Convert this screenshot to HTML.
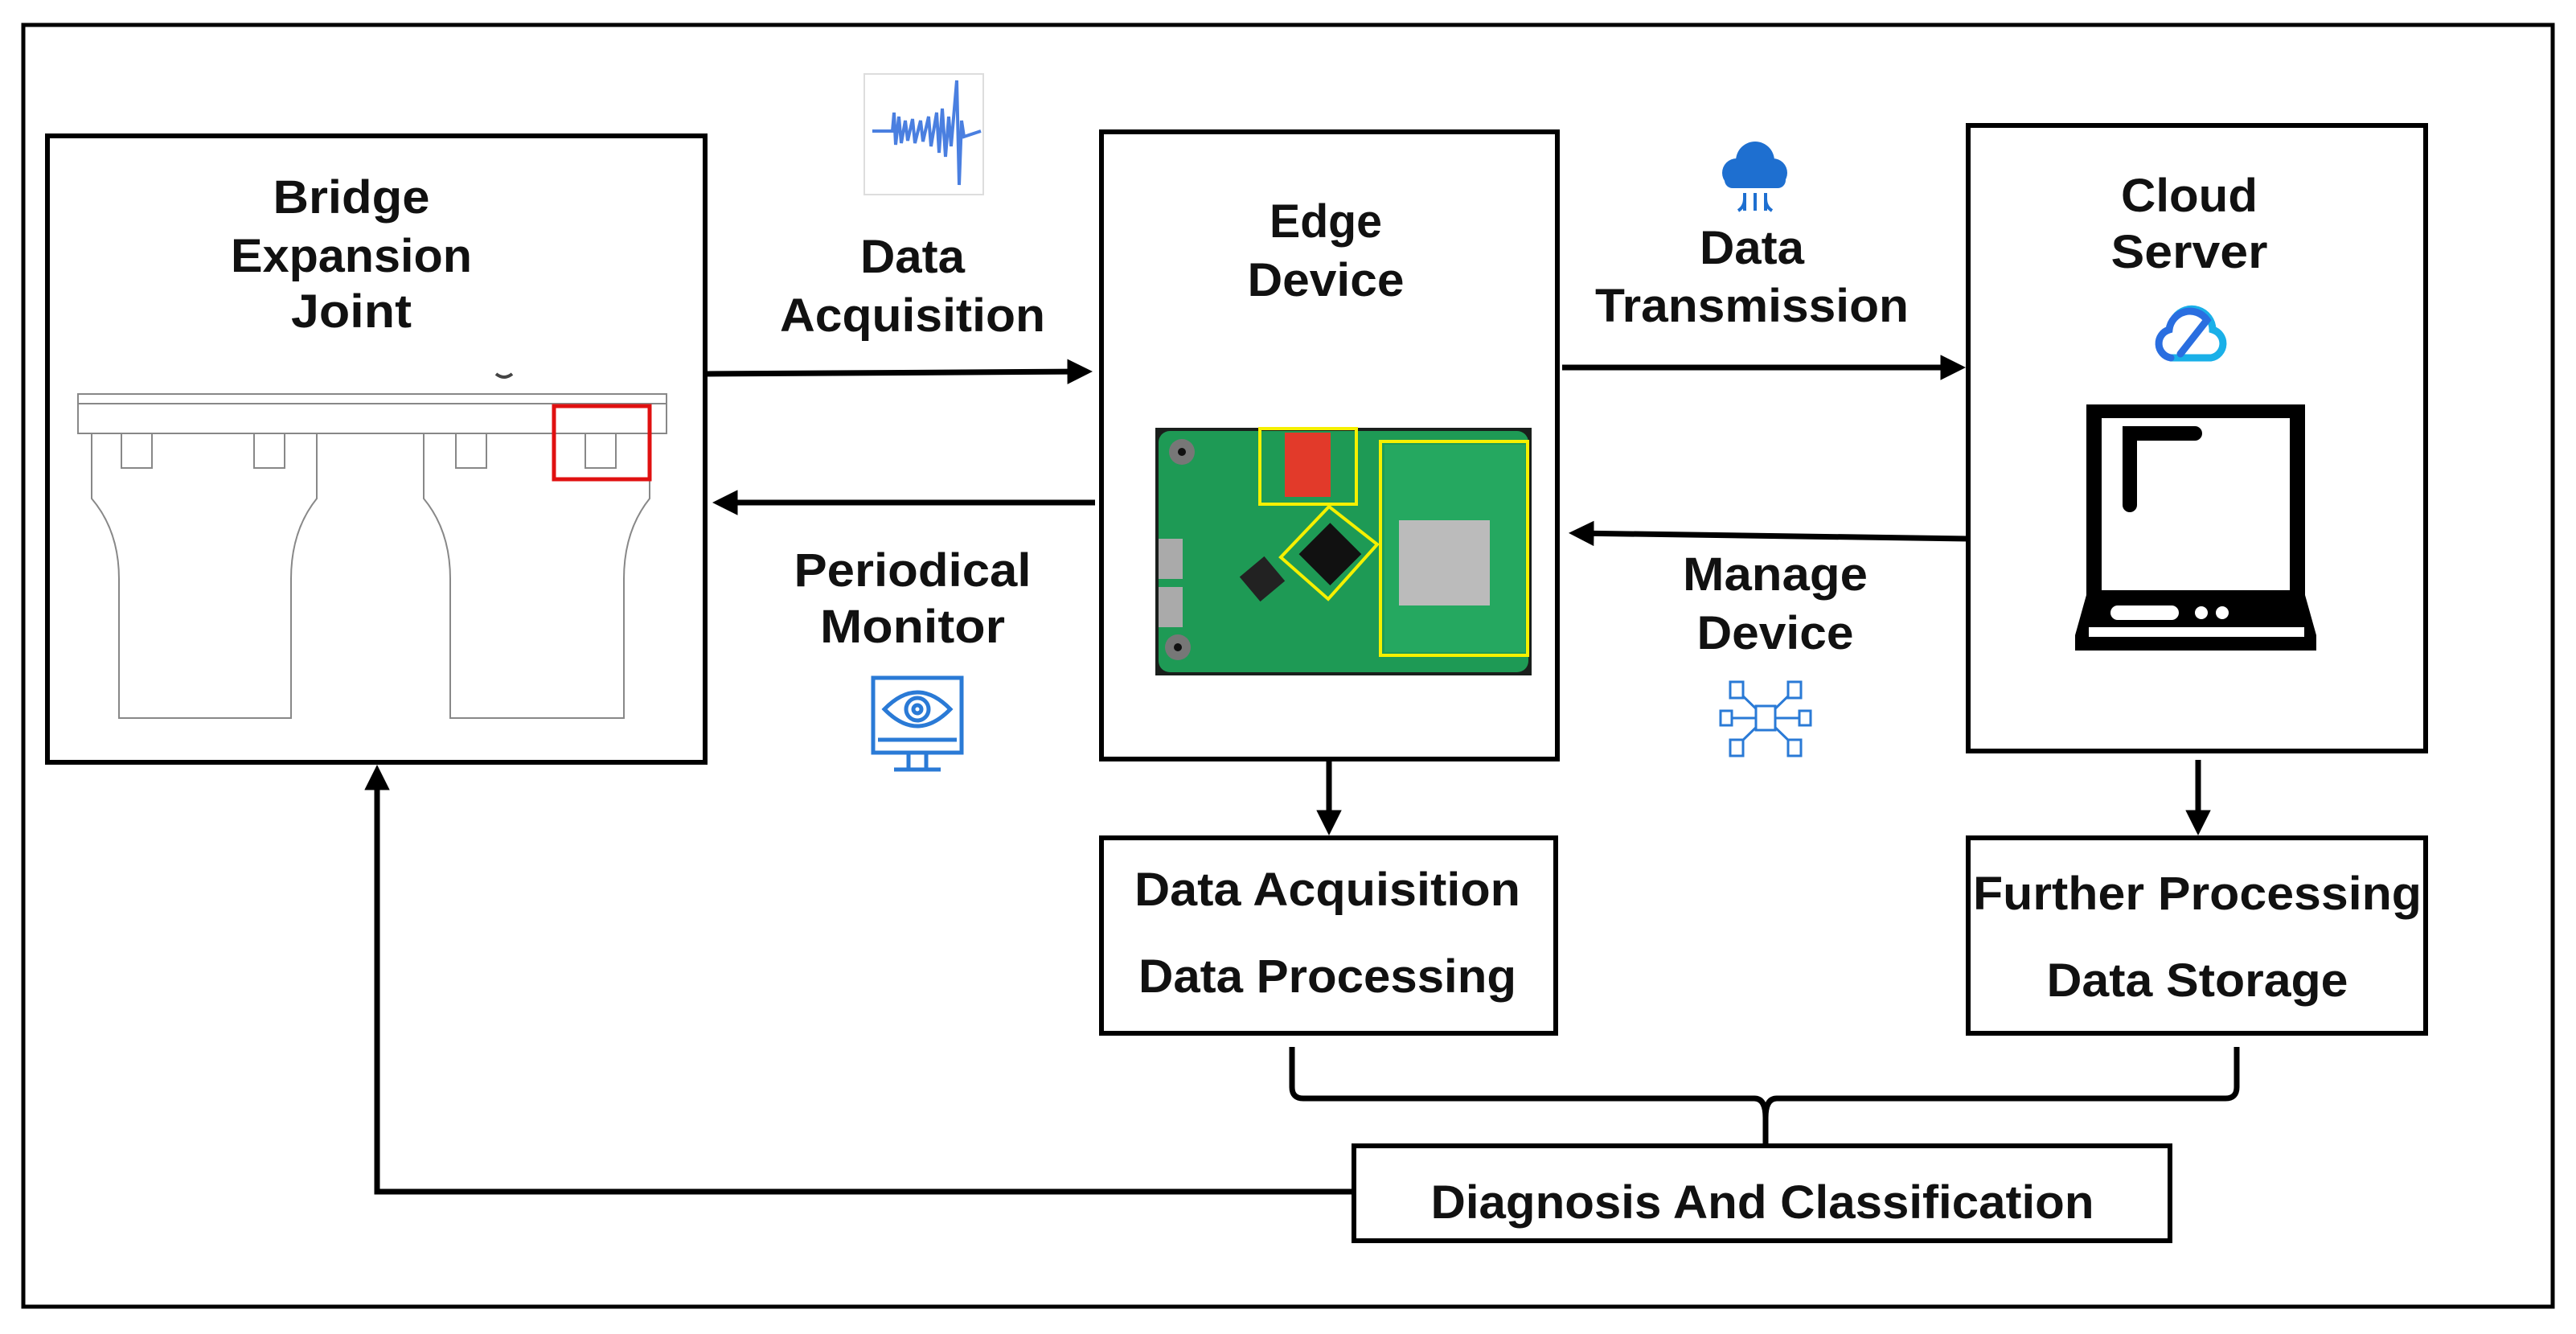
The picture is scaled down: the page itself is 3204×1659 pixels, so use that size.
<!DOCTYPE html>
<html><head><meta charset="utf-8"><style>
html,body{margin:0;padding:0;background:#fff;}
svg{display:block;}
text{font-family:"Liberation Sans",sans-serif;font-weight:bold;fill:#111;text-anchor:middle;}
</style></head><body>
<svg width="3204" height="1659" viewBox="0 0 3204 1659" xmlns="http://www.w3.org/2000/svg">
<defs>
<marker id="ah" markerWidth="4.5" markerHeight="4.5" refX="3.5" refY="2.25" orient="auto" markerUnits="strokeWidth">
<path d="M0,0 L4.5,2.25 L0,4.5 z" fill="#000"/></marker>
</defs>
<rect x="0" y="0" width="3204" height="1659" fill="#fff"/>
<rect x="29" y="31" width="3146" height="1594" fill="none" stroke="#000" stroke-width="5"/>

<rect x="59" y="169" width="818" height="779" fill="none" stroke="#000" stroke-width="6"/>
<text x="437" y="265" font-size="58" textLength="195" lengthAdjust="spacingAndGlyphs">Bridge</text>
<text x="437" y="338" font-size="58" textLength="300" lengthAdjust="spacingAndGlyphs">Expansion</text>
<text x="437" y="407" font-size="58" textLength="150" lengthAdjust="spacingAndGlyphs">Joint</text>
<g fill="none" stroke="#888" stroke-width="2">
<rect x="97" y="490" width="732" height="49"/>
<line x1="97" y1="502" x2="829" y2="502"/>
<path d="M114,539 L114,620 Q148,660 148,720 L148,893 L362,893 L362,720 Q362,660 394,620 L394,539"/>
<path d="M527,539 L527,620 Q560,660 560,720 L560,893 L776,893 L776,720 Q776,660 808,620 L808,539"/>
<rect x="151" y="539" width="38" height="43"/>
<rect x="316" y="539" width="38" height="43"/>
<rect x="567" y="539" width="38" height="43"/>
<rect x="728" y="539" width="38" height="43"/>
</g>
<path d="M617,465 q10,8 20,0" stroke="#444" stroke-width="4" fill="none"/>
<rect x="689" y="505" width="119" height="91" fill="none" stroke="#e01010" stroke-width="5"/>

<g>
<rect x="1075" y="92" width="148" height="150" fill="none" stroke="#ddd" stroke-width="2"/>
<path d="M1085,163 L1110,163 L1112,140 L1114,180 L1118,145 L1121,178 L1126,150 L1129,175 L1135,148 L1138,178 L1145,150 L1148,176 L1155,145 L1158,182 L1165,140 L1168,190 L1172,135 L1176,195 L1180,145 L1183,182 L1190,100 L1193,230 L1196,150 L1199,170 L1220,163" fill="none" stroke="#4a7fe0" stroke-width="4"/>
</g>
<text x="1135" y="339" font-size="58" textLength="130" lengthAdjust="spacingAndGlyphs">Data</text>
<text x="1135" y="412" font-size="58" textLength="330" lengthAdjust="spacingAndGlyphs">Acquisition</text>
<line x1="877" y1="465" x2="1352" y2="462" stroke="#000" stroke-width="7" marker-end="url(#ah)"/>
<line x1="1362" y1="625" x2="893" y2="625" stroke="#000" stroke-width="7" marker-end="url(#ah)"/>
<text x="1135" y="729" font-size="58" textLength="295" lengthAdjust="spacingAndGlyphs">Periodical</text>
<text x="1135" y="799" font-size="58" textLength="230" lengthAdjust="spacingAndGlyphs">Monitor</text>
<g stroke="#2a7ad6" fill="none" stroke-width="5">
<rect x="1086" y="843" width="110" height="93"/>
<line x1="1092" y1="920" x2="1190" y2="920"/>
<line x1="1130" y1="936" x2="1130" y2="955"/><line x1="1152" y1="936" x2="1152" y2="955"/>
<line x1="1112" y1="957" x2="1170" y2="957"/>
<path d="M1100,882 Q1141,840 1182,882 Q1141,924 1100,882 z"/>
<circle cx="1141" cy="882" r="14"/><circle cx="1141" cy="882" r="5"/>
</g>

<rect x="1370" y="164" width="567" height="780" fill="none" stroke="#000" stroke-width="6"/>
<text x="1649" y="295" font-size="58" textLength="140" lengthAdjust="spacingAndGlyphs">Edge</text>
<text x="1649" y="368" font-size="58" textLength="195" lengthAdjust="spacingAndGlyphs">Device</text>
<rect x="1437" y="532" width="468" height="308" fill="#1a1f1c"/>
<rect x="1441" y="536" width="460" height="300" rx="14" fill="#1e9a55"/>
<circle cx="1470" cy="562" r="16" fill="#777"/><circle cx="1470" cy="562" r="5" fill="#111"/>
<circle cx="1465" cy="805" r="16" fill="#777"/><circle cx="1465" cy="805" r="5" fill="#111"/>
<rect x="1441" y="670" width="30" height="50" fill="#aaa"/><rect x="1441" y="730" width="30" height="50" fill="#aaa"/>
<rect x="1550" y="700" width="40" height="40" fill="#222" transform="rotate(-40 1570 720)"/>
<rect x="1598" y="538" width="57" height="80" fill="#e23a2a"/>
<rect x="1567" y="533" width="120" height="94" fill="none" stroke="#f5f000" stroke-width="4"/>
<rect x="1628" y="660" width="55" height="55" fill="#111" transform="rotate(45 1653 687)"/>
<path d="M1653,630 L1713,677 L1652,745 L1593,693 z" fill="none" stroke="#f5f000" stroke-width="4"/>
<rect x="1722" y="553" width="175" height="258" fill="#25a860"/>
<rect x="1740" y="647" width="113" height="106" fill="#bbb"/>
<rect x="1717" y="549" width="183" height="266" fill="none" stroke="#f5f000" stroke-width="4"/>

<g fill="#1e6fd0">
<circle cx="2160" cy="215" r="18"/><circle cx="2183" cy="200" r="24"/><circle cx="2205" cy="215" r="18"/>
<rect x="2145" y="212" width="76" height="22" rx="10"/>
</g>
<g stroke="#1e6fd0" stroke-width="4" fill="none">
<path d="M2170,240 v22 M2183,240 v22 M2196,240 v22 M2162,262 q8,-5 8,-15 M2204,262 q-8,-5 -8,-15"/>
</g>
<text x="2179" y="328" font-size="58" textLength="130" lengthAdjust="spacingAndGlyphs">Data</text>
<text x="2179" y="400" font-size="58" textLength="390" lengthAdjust="spacingAndGlyphs">Transmission</text>
<line x1="1943" y1="457" x2="2438" y2="457" stroke="#000" stroke-width="7" marker-end="url(#ah)"/>
<line x1="2448" y1="670" x2="1958" y2="663" stroke="#000" stroke-width="7" marker-end="url(#ah)"/>
<text x="2208" y="734" font-size="58" textLength="230" lengthAdjust="spacingAndGlyphs">Manage</text>
<text x="2208" y="807" font-size="58" textLength="195" lengthAdjust="spacingAndGlyphs">Device</text>
<g stroke="#2a7ad6" stroke-width="3" fill="none">
<line x1="2160" y1="858" x2="2232" y2="928"/><line x1="2232" y1="858" x2="2160" y2="928"/>
<line x1="2150" y1="893" x2="2242" y2="893"/>
<rect x="2184" y="878" width="24" height="30" fill="#fff"/>
<rect x="2152" y="848" width="16" height="20" fill="#fff"/><rect x="2224" y="848" width="16" height="20" fill="#fff"/>
<rect x="2152" y="920" width="16" height="20" fill="#fff"/><rect x="2224" y="920" width="16" height="20" fill="#fff"/>
<rect x="2140" y="884" width="14" height="18" fill="#fff"/><rect x="2238" y="884" width="14" height="18" fill="#fff"/>
</g>

<rect x="2448" y="156" width="569" height="778" fill="none" stroke="#000" stroke-width="6"/>
<text x="2723" y="263" font-size="58" textLength="170" lengthAdjust="spacingAndGlyphs">Cloud</text>
<text x="2723" y="333" font-size="58" textLength="195" lengthAdjust="spacingAndGlyphs">Server</text>
<g fill="none" stroke-width="9" stroke-linecap="round">
<path d="M2700,445 L2750,445 A18,18 0 0 0 2752,410 A26,26 0 0 0 2705,395" stroke="#1ab0e8"/>
<path d="M2700,445 A18,18 0 0 1 2698,410 A26,26 0 0 1 2745,398 L2712,440" stroke="#2a6ee0"/>
</g>
<path d="M2595,503 h272 v245 h-272 z M2614,520 v214 h234 v-214 z" fill="#000" fill-rule="evenodd"/>
<path d="M2640,530 h90 a9,9 0 0 1 0,18 h-72 v80 a9,9 0 0 1 -18,0 z" fill="#000"/>
<path d="M2595,740 h272 l14,50 v19 h-300 v-19 z" fill="#000"/>
<rect x="2598" y="780" width="268" height="12" fill="#fff"/>
<rect x="2625" y="753" width="85" height="18" rx="9" fill="#fff"/>
<circle cx="2738" cy="762" r="8" fill="#fff"/><circle cx="2764" cy="762" r="8" fill="#fff"/>

<line x1="1653" y1="944" x2="1653" y2="1032" stroke="#000" stroke-width="7" marker-end="url(#ah)"/>
<line x1="2734" y1="945" x2="2734" y2="1032" stroke="#000" stroke-width="7" marker-end="url(#ah)"/>
<rect x="1370" y="1042" width="565" height="243" fill="none" stroke="#000" stroke-width="6"/>
<text x="1651" y="1126" font-size="58" textLength="480" lengthAdjust="spacingAndGlyphs">Data Acquisition</text>
<text x="1651" y="1234" font-size="58" textLength="470" lengthAdjust="spacingAndGlyphs">Data Processing</text>
<rect x="2448" y="1042" width="569" height="243" fill="none" stroke="#000" stroke-width="6"/>
<text x="2733" y="1131" font-size="58" textLength="558" lengthAdjust="spacingAndGlyphs">Further Processing</text>
<text x="2733" y="1239" font-size="58" textLength="375" lengthAdjust="spacingAndGlyphs">Data Storage</text>

<path d="M1607,1302 V1352 Q1607,1366 1621,1366 H2182 Q2196,1366 2196,1390 V1425 M2196,1390 Q2196,1366 2210,1366 H2768 Q2782,1366 2782,1352 V1302" fill="none" stroke="#000" stroke-width="7"/>
<rect x="1684" y="1425" width="1015" height="118" fill="none" stroke="#000" stroke-width="6"/>
<text x="2192" y="1515" font-size="58" textLength="825" lengthAdjust="spacingAndGlyphs">Diagnosis And Classification</text>
<path d="M1684,1482 H469 V958" fill="none" stroke="#000" stroke-width="7" marker-end="url(#ah)"/>
</svg>
</body></html>
